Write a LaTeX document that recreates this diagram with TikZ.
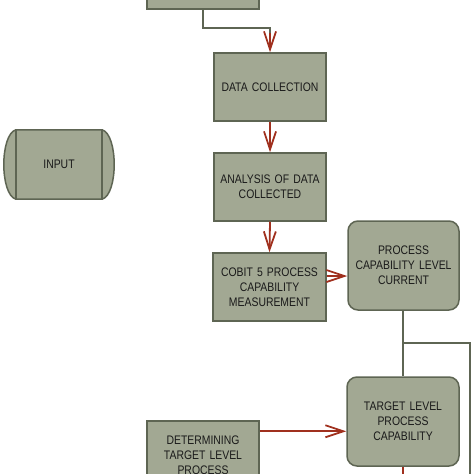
\documentclass[tikz,border=0pt]{standalone}
\usepackage{fontspec}
\setmainfont{Liberation Sans}[FakeStretch=0.84]
\usetikzlibrary{arrows.meta}
\definecolor{boxfill}{HTML}{A2A893}
\definecolor{boxline}{HTML}{5E6553}
\definecolor{arrred}{HTML}{A0301E}
\definecolor{txt}{HTML}{1A1A1A}
\tikzset{
  x=1pt,y=-1pt,
  procbox/.style={draw=boxline,fill=boxfill,line width=1.5pt,minimum width=112pt,minimum height=68pt,
    text width=108pt,align=center,font=\fontsize{12.4}{15}\selectfont,text=txt,inner sep=0pt},
  roundbox/.style={procbox,rounded corners=10pt,minimum height=89pt,minimum width=111pt},
  arr/.style={draw=arrred,line width=1.8pt,-{Straight Barb[length=18pt,width=12pt,line width=1.8pt]}},
  grayline/.style={draw=boxline,line width=1.6pt},
  redline/.style={draw=arrred,line width=1.8pt}
}
\begin{document}
\begin{tikzpicture}
\useasboundingbox (0,0) rectangle (474,474);
\clip (0,0) rectangle (474,474);
\node[procbox] (top) at (203,-25) {};
\node[procbox] (dc) at (270,87) {DATA COLLECTION};
\node[procbox] (an) at (270,187) {ANALYSIS OF DATA\\COLLECTED};
\node[procbox,minimum width=113pt] (cobit) at (269.5,287) {COBIT 5 PROCESS\\CAPABILITY\\MEASUREMENT};
\node[roundbox] (pclc) at (403.5,265.5) {PROCESS\\CAPABILITY LEVEL\\CURRENT};
\node[roundbox,minimum width=112pt] (tgt) at (403,421.5) {TARGET LEVEL\\PROCESS\\CAPABILITY};
\node[procbox] (det) at (203,455) {DETERMINING\\TARGET LEVEL\\PROCESS};
% input storage shape
\node[minimum width=86pt,minimum height=69pt,inner sep=0pt] (inp) at (59,164.5) {};
\path[draw=boxline,fill=boxfill,line width=1.5pt]
  (inp.north west) -- (inp.north east)
  .. controls ++(16,5) and ++(16,-5) .. (inp.south east)
  -- (inp.south west)
  .. controls ++(-16,-5) and ++(-16,5) .. (inp.north west) -- cycle;
\draw[boxline,line width=1.5pt] (inp.north west) -- (inp.south west);
\draw[boxline,line width=1.5pt] (inp.north east) -- (inp.south east);
\node[font=\fontsize{12.4}{15}\selectfont,text=txt] at (inp.center) {INPUT};
% connectors
\coordinate (e1) at (203,28);
\coordinate (e2) at (270,28);
\coordinate (e3) at (270,33);
\draw[grayline] (top.south) -- (e1) -- (e2) -- (e3);
\draw[arr] (e3) -- (dc.north);
\draw[arr] (dc.south) -- (an.north);
\draw[arr] (an.south) -- (cobit.north);
\coordinate (c1) at (cobit.east |- 0,276);
\draw[arr] (c1) -- (c1 -| pclc.west);
\draw[grayline] (pclc.south -| tgt.north) -- (tgt.north);
\coordinate (b1) at (403,343);
\coordinate (b2) at (470,343);
\coordinate (b3) at (470,480);
\draw[grayline] (b1) -- (b2) -- (b3);
\coordinate (t1) at (403,480);
\draw[redline] (tgt.south) -- (t1);
\coordinate (d1) at ([yshift=-11pt]det.north east);
\draw[arr] (d1) -- (d1 -| tgt.west);
\end{tikzpicture}
\end{document}
